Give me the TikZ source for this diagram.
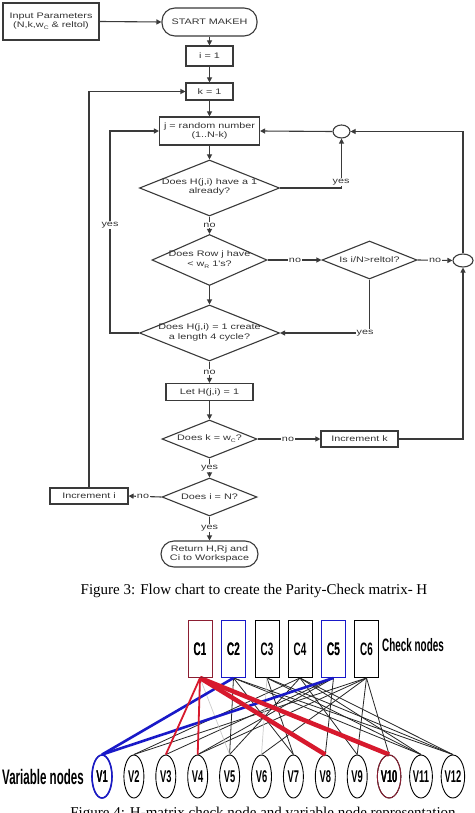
\documentclass[tikz,border=0pt]{standalone}
\usepackage{fontspec}
\setmainfont{Liberation Serif}
\newfontfamily\flowfont[FakeStretch=1.35]{Liberation Sans}
\newfontfamily\condfont[FakeStretch=0.55]{Liberation Sans}
\usetikzlibrary{shapes.geometric,arrows.meta}
\newcommand\lsub[1]{\raisebox{-0.45ex}{\fontsize{5}{5}\selectfont #1}}
\definecolor{lc}{HTML}{3A3A3A}
\definecolor{tc}{HTML}{333333}
\definecolor{bl}{RGB}{25,25,200}
\definecolor{rd}{RGB}{215,25,45}
\definecolor{mr}{RGB}{140,30,50}
\tikzset{
  fl/.style={draw=lc, line width=1.1pt, text=tc, font=\flowfont\fontsize{8}{9.3}\selectfont, align=center, inner sep=1pt},
  box/.style={fl, rectangle},
  term/.style={fl, rectangle, rounded corners=13pt},
  dia/.style={fl, diamond, inner sep=0pt},
  conn/.style={fl, ellipse, inner sep=0pt},
  txt/.style={text=tc, font=\flowfont\fontsize{8}{9.3}\selectfont, align=center, inner sep=0pt},
  ar/.style={draw=lc, line width=1.1pt, -{Triangle[length=5pt,width=5pt]}},
  lab/.style={fill=white, inner sep=0.8pt, text=tc, font=\flowfont\fontsize{8}{9}\selectfont},
  cn/.style={draw=black, line width=0.9pt, minimum width=24, minimum height=57, inner sep=0pt, font=\condfont\bfseries\fontsize{18}{18}\selectfont},
  vn/.style={draw=black, ellipse, line width=0.9pt, minimum width=20, minimum height=43, inner sep=0pt, font=\condfont\bfseries\fontsize{17}{17}\selectfont},
  edk/.style={line width=0.8pt, draw=black!85},
  edf/.style={line width=0.7pt, draw=black!20},
  edb/.style={line width=2.6pt, draw=bl},
  edr/.style={line width=1.8pt, draw=rd},
  edR/.style={line width=4.5pt, draw=rd},
}
\begin{document}
\begin{tikzpicture}[x=1pt,y=-1pt]
\useasboundingbox (0,0) rectangle (474,813);
\fill[white] (0,0) rectangle (474,813);

% ---------- flow chart ----------
\node[box, minimum width=96, minimum height=37] (inp) at (51,21.5) {Input Parameters\\(N,k,w\lsub{C} \& reltol)};
\node[term, minimum width=95, minimum height=28] (start) at (209.5,22) {START MAKEH};
\node[box, minimum width=47, minimum height=20] (i1) at (209.5,56) {i = 1};
\node[box, minimum width=47, minimum height=17] (k1) at (209.5,91.5) {k = 1};
\node[box, minimum width=100, minimum height=28] (jr) at (209.5,131) {j = random number\\(1..N-k)};
\node[conn, minimum width=17, minimum height=13] (c1) at (341.5,131.5) {};
\node[dia, minimum width=140, minimum height=56] (d1) at (209.5,188) {};
\node[txt] (d1t) at (209.5,187) {Does H(j,i) have a 1\\already?};
\node[dia, minimum width=115, minimum height=51] (d2) at (209.5,260) {};
\node[txt] (d2t) at (209.5,259.5) {Does Row j have\\< w\lsub{R} 1's?};
\node[dia, minimum width=95, minimum height=38] (d3) at (369.5,260) {};
\node[txt] (d3t) at (369.5,260) {Is i/N>reltol?};
\node[conn, minimum width=20, minimum height=13] (c2) at (463,260.5) {};
\node[dia, minimum width=140, minimum height=56] (d4) at (209.5,333) {};
\node[txt] (d4t) at (209.5,332.5) {Does H(j,i) = 1 create\\a length 4 cycle?};
\node[box, minimum width=87, minimum height=17] (let) at (209.5,392) {Let H(j,i) = 1};
\node[dia, minimum width=95, minimum height=38] (d5) at (209.5,439) {};
\node[txt] (d5t) at (209.5,439) {Does k = w\lsub{C}?};
\node[box, minimum width=77, minimum height=16] (inck) at (359.5,439) {Increment k};
\node[dia, minimum width=95, minimum height=38] (d6) at (209.5,497) {};
\node[txt] (d6t) at (209.5,497) {Does i = N?};
\node[box, minimum width=78, minimum height=16] (inci) at (89,496) {Increment i};
\node[term, minimum width=97, minimum height=26] (ret) at (209.5,554) {Return H,Rj and\\Ci to Workspace};

\draw[ar] (inp.east) -- (start.west);
\draw[ar] (start.south) -- (i1.north);
\draw[ar] (i1.south) -- (k1.north);
\draw[ar] (k1.south) -- (jr.north);
\draw[ar] (jr.south) -- (d1.north);
\draw[ar] (d1.east) -| (c1.south);
\draw[ar] (c1.west) -- (jr.east);
\draw[ar] (d1.south) -- (d2.north);
\draw[ar] (d2.east) -- (d3.west);
\draw[ar] (d3.east) -- (c2.west);
\draw[ar] (d3.south) |- (d4.east);
\draw[ar] (d2.south) -- (d4.north);
\draw[ar] (d4.west) -- (110,333) |- (jr.west);
\draw[ar] (d4.south) -- (let.north);
\draw[ar] (let.south) -- (d5.north);
\draw[ar] (d5.east) -- (inck.west);
\draw[ar] (inck.east) -| (c2.south);
\draw[ar] (c2.north) |- (c1.east);
\draw[ar] (d5.south) -- (d6.north);
\draw[ar] (d6.west) -- (inci.east);
\draw[ar] (inci.north) |- (k1.west);
\draw[ar] (d6.south) -- (ret.north);

\node[lab] (l1) at (341,182) {yes};
\node[lab] (l2) at (209.5,225) {no};
\node[lab] (l3) at (295,260) {no};
\node[lab] (l4) at (435,260) {no};
\node[lab] (l5) at (365,333) {yes};
\node[lab] (l6) at (110,225) {yes};
\node[lab] (l7) at (209.5,372) {no};
\node[lab] (l8) at (288,439) {no};
\node[lab] (l9) at (209.5,468) {yes};
\node[lab] (l10) at (143,496) {no};
\node[lab] (l11) at (209.5,528) {yes};

\node[anchor=base, font=\fontsize{15}{18}\selectfont, inner sep=0pt] (cap1) at (254,594) {Figure 3: Flow chart to create the Parity-Check matrix- H};

% ---------- Tanner graph ----------
\foreach \i/\x in {1/200,2/233.5,3/267,4/300,5/333.5,6/366.5}
  \node[cn] (C\i) at (\x,649) {C\i};
\foreach \i in {1,...,12}
  \node[vn] (V\i) at ({102+31.9*(\i-1)},776.5) {V\i};

\foreach \c/\v in {4/2,6/2,5/3,5/4,6/4,2/5,4/5,6/6,2/7,3/7,5/8,4/9,6/9,6/10,2/11,3/11,4/11,2/12,3/12,4/12}
  \draw[edk] (C\c.south) -- (V\v.north);
\draw[edf] (C3.south) -- (V6.north);
\draw[edf] (C1.south) -- (V5.north);
\draw[edb] (C2.south) -- (V1.north);
\draw[edb] (C5.south) -- (V1.north);
\draw[edr] (C1.south) -- (V3.north);
\draw[edr] (C1.south) -- (V4.north);
\draw[edR] (C1.south) -- (V8.north);
\draw[edR] (C1.south) -- (V10.north);

\node[cn, draw=mr] (C1b) at (C1) {C1};
\node[cn, draw=bl, line width=1.6pt] (C2b) at (C2) {C2};
\node[cn, draw=bl, line width=1.6pt] (C5b) at (C5) {C5};
\node[vn, draw=bl, line width=1.6pt] (V1b) at (V1) {V1};
\node[vn, draw=mr] (V10b) at (V10) {V10};

\node[anchor=west, inner sep=0pt, font=\condfont\bfseries\fontsize{18}{18}\selectfont] (cnlab) at (382,645) {Check nodes};
\node[anchor=west, inner sep=0pt, font=\condfont\bfseries\fontsize{21}{21}\selectfont] (vnlab) at (2,777) {Variable nodes};

\node[anchor=base, font=\fontsize{15}{18}\selectfont, inner sep=0pt] (cap2) at (263,817) {Figure 4: H-matrix check node and variable node representation};
\end{tikzpicture}
\end{document}
